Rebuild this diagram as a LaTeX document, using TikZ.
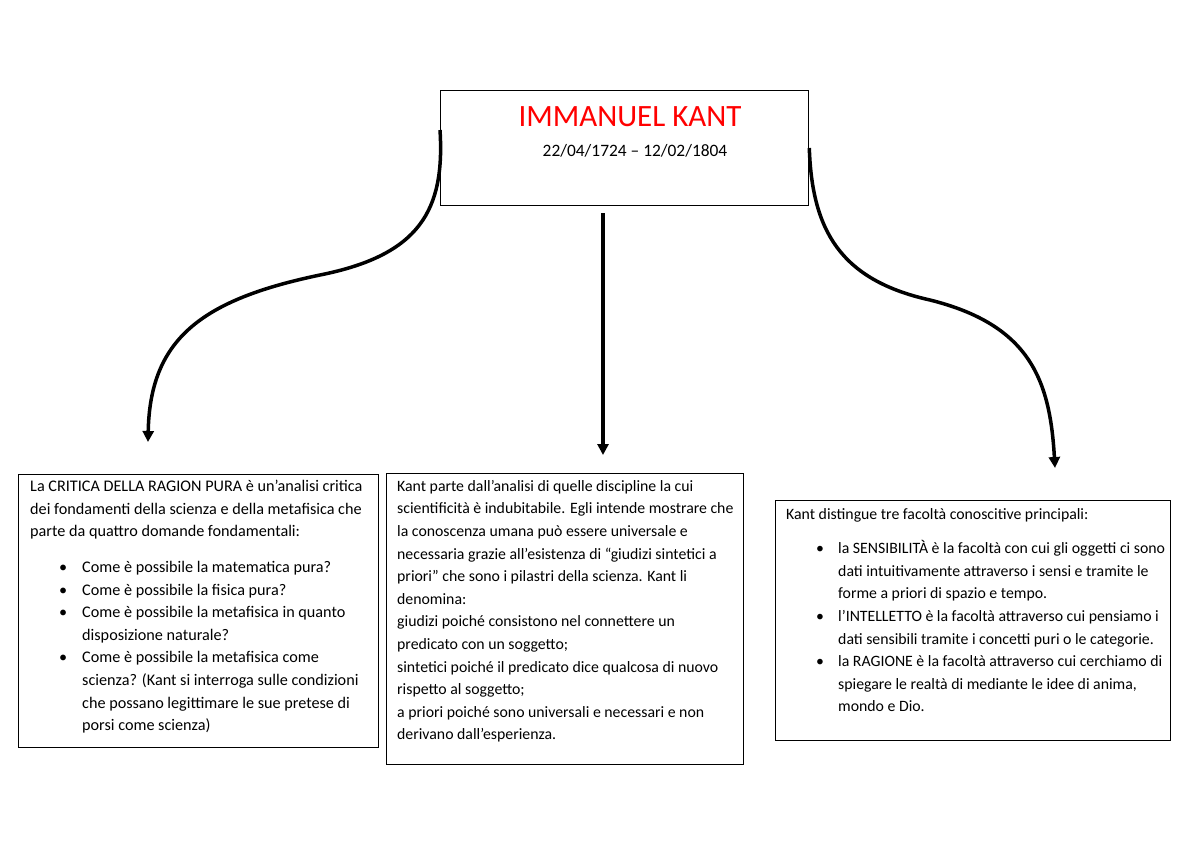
\documentclass[tikz,border=0pt]{standalone}
\usepackage{fontspec}
\setmainfont{Carlito}
\usetikzlibrary{arrows.meta}
\begin{document}
\begin{tikzpicture}[x=1pt,y=-1pt,
  box/.style={draw,line width=1.3pt},
  txt/.style={anchor=north west,inner sep=0pt,align=left,font=\fontsize{16.2}{22.6}\selectfont},
  txts/.style={txt,font=\fontsize{15.8}{22.6}\selectfont},
  arr/.style={line width=3.5pt,-{Triangle[width=11pt,length=11pt]}}]
\useasboundingbox (0,0) rectangle (1200,849);
\node[box,minimum width=368pt,minimum height=115pt,anchor=north west,inner sep=0pt] (title) at (440,90) {};
\node[text=red,font=\fontsize{31}{34}\selectfont] (t1) at (630,117) {IMMANUEL KANT};
\node[font=\fontsize{17.4}{20}\selectfont] (t2) at (635,151) {22/04/1724 – 12/02/1804};
\node[box,minimum width=360pt,minimum height=273pt,anchor=north west,inner sep=0pt] (L) at (18,474) {};
\node[box,minimum width=357pt,minimum height=291pt,anchor=north west,inner sep=0pt] (M) at (386,473) {};
\node[box,minimum width=395pt,minimum height=240pt,anchor=north west,inner sep=0pt] (R) at (775,500) {};
\def\bl{\makebox[52pt][l]{\hspace{29pt}•}}
\def\cl{\hspace{52pt}}
\node[txt] (lt) at (30,480) {La CRITICA DELLA RAGION PURA è un’analisi critica\\
dei fondamenti della scienza e della metafisica che\\
parte da quattro domande fondamentali:\\[13pt]
\bl Come è possibile la matematica pura?\\
\bl Come è possibile la fisica pura?\\
\bl Come è possibile la metafisica in quanto\\
\cl disposizione naturale?\\
\bl Come è possibile la metafisica come\\
\cl scienza? (Kant si interroga sulle condizioni\\
\cl che possano legittimare le sue pretese di\\
\cl porsi come scienza)};
\node[txts] (mt) at (397,480) {Kant parte dall’analisi di quelle discipline la cui\\
scientificità è indubitabile. Egli intende mostrare che\\
la conoscenza umana può essere universale e\\
necessaria grazie all’esistenza di “giudizi sintetici a\\
priori” che sono i pilastri della scienza. Kant li\\
denomina:\\
giudizi poiché consistono nel connettere un\\
predicato con un soggetto;\\
sintetici poiché il predicato dice qualcosa di nuovo\\
rispetto al soggetto;\\
a priori poiché sono universali e necessari e non\\
derivano dall’esperienza.};
\def\br{\makebox[52pt][l]{\hspace{30pt}•}}
\node[txts] (rt) at (786,508) {Kant distingue tre facoltà conoscitive principali:\\[12pt]
\br la SENSIBILITÀ è la facoltà con cui gli oggetti ci sono\\
\cl dati intuitivamente attraverso i sensi e tramite le\\
\cl forme a priori di spazio e tempo.\\
\br l’INTELLETTO è la facoltà attraverso cui pensiamo i\\
\cl dati sensibili tramite i concetti puri o le categorie.\\
\br la RAGIONE è la facoltà attraverso cui cerchiamo di\\
\cl spiegare le realtà di mediante le idee di anima,\\
\cl mondo e Dio.};
\coordinate (la) at (148,442);
\coordinate (ma) at (603,213);
\coordinate (mb) at (603,455);
\coordinate (ra) at (1055,468);
\draw[arr] (title.west |- 0,130) .. controls (445,210) and (420,255) .. (320,275)
  .. controls (200,300) and (150,340) .. (la);
\draw[arr] (ma) -- (mb);
\draw[arr] (title.east |- 0,148) .. controls (812,230) and (840,280) .. (930,300)
  .. controls (1030,325) and (1050,380) .. (ra);
\end{tikzpicture}
\end{document}
